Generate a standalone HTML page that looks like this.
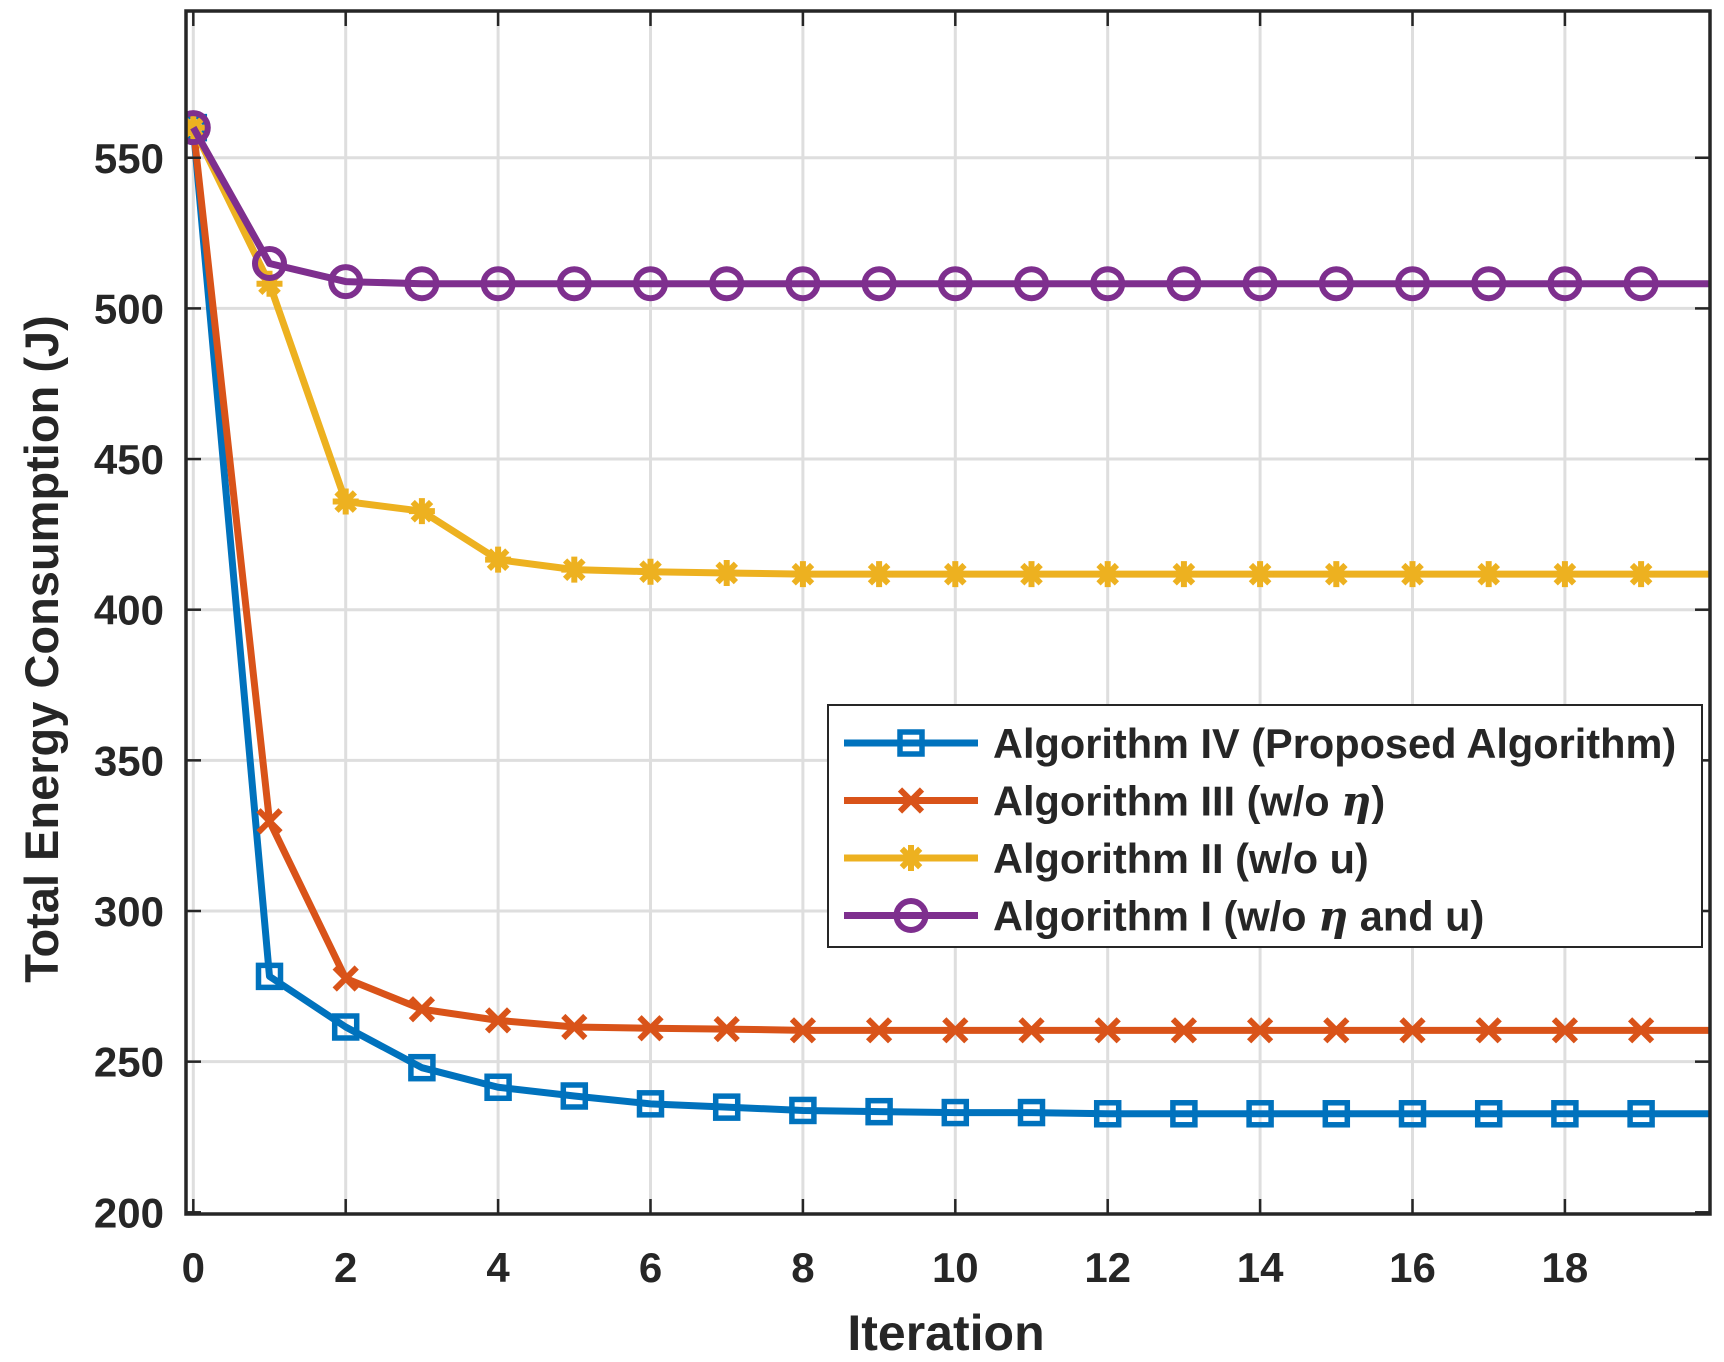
<!DOCTYPE html>
<html><head><meta charset="utf-8"><style>body{margin:0;background:#fff}svg{display:block}text{font-family:"Liberation Sans",sans-serif;font-weight:bold;fill:#262626}</style></head>
<body><svg id="s" width="1724" height="1362" xmlns="http://www.w3.org/2000/svg"></svg>
<script>
const s=document.getElementById('s');const NS='http://www.w3.org/2000/svg';
function el(t,a,p){const e=document.createElementNS(NS,t);for(const k in a)e.setAttribute(k,a[k]);(p||s).appendChild(e);return e;}
const L=186,R=1710,T=11,B=1214;
const X=v=>193.3+v*76.2, Y=v=>1212.3-(v-200)*3.013;
el('rect',{x:0,y:0,width:1724,height:1362,fill:'#fff'});
const defs=el('defs',{});const cp=el('clipPath',{id:'c'},defs);el('rect',{x:L,y:T,width:R-L,height:B-T},cp);
for(let i=0;i<=18;i+=2){el('line',{x1:X(i),x2:X(i),y1:T,y2:B,stroke:'#dedede','stroke-width':3});}
for(let v=250;v<=550;v+=50){el('line',{x1:L,x2:R,y1:Y(v),y2:Y(v),stroke:'#dedede','stroke-width':3});}
const g=el('g',{'clip-path':'url(#c)'});
const data={
blue:[560,278.3,261.5,248,241.5,238.6,236,234.9,233.8,233.4,233.1,233.1,232.7,232.7,232.7,232.7,232.7,232.7,232.7,232.7,232.7],
red:[560,329.8,277.6,267.4,263.7,261.5,261.1,260.8,260.4,260.4,260.4,260.4,260.4,260.4,260.4,260.4,260.4,260.4,260.4,260.4,260.4],
yel:[560,508.2,435.9,432.7,416.6,413.3,412.6,412.2,411.8,411.8,411.8,411.8,411.8,411.8,411.8,411.8,411.8,411.8,411.8,411.8,411.8],
pur:[560,514.9,508.9,508.2,508.2,508.2,508.2,508.2,508.2,508.2,508.2,508.2,508.2,508.2,508.2,508.2,508.2,508.2,508.2,508.2,508.2]};
const col={blue:'#0072BD',red:'#D95319',yel:'#EDB120',pur:'#7E2F8E'};
function marker(k,x,y,p){const c=col[k];
 if(k=='blue')el('rect',{x:x-11,y:y-11,width:22,height:22,fill:'none',stroke:c,'stroke-width':5.5},p);
 if(k=='red'){el('path',{d:`M${x-11} ${y-11}L${x+11} ${y+11}M${x-11} ${y+11}L${x+11} ${y-11}`,stroke:c,'stroke-width':6},p);}
 if(k=='yel'){let d='';for(let a=0;a<4;a++){const an=a*Math.PI/4;const dx=13*Math.cos(an),dy=13*Math.sin(an);d+=`M${x-dx} ${y-dy}L${x+dx} ${y+dy}`;}el('path',{d,stroke:c,'stroke-width':6},p);el('circle',{cx:x,cy:y,r:7,fill:c},p);}
 if(k=='pur')el('circle',{cx:x,cy:y,r:14.5,fill:'none',stroke:c,'stroke-width':6},p);}
for(const k of ['blue','red','yel','pur']){const d=data[k];
 el('polyline',{points:d.map((v,i)=>X(i)+','+Y(v)).join(' '),fill:'none',stroke:col[k],'stroke-width':7,'stroke-linejoin':'round'},g);
 for(let i=0;i<20;i++)marker(k,X(i),Y(d[i]),g);}
el('rect',{x:L,y:T,width:R-L,height:B-T,fill:'none',stroke:'#262626','stroke-width':3.5});
for(let i=0;i<=18;i+=2){el('line',{x1:X(i),x2:X(i),y1:B,y2:B-15,stroke:'#262626','stroke-width':2.5});el('line',{x1:X(i),x2:X(i),y1:T,y2:T+15,stroke:'#262626','stroke-width':2.5});
 const t=el('text',{x:X(i),y:1282,'font-size':42,'text-anchor':'middle'});t.textContent=i;}
for(let v=200;v<=550;v+=50){el('line',{x1:L,x2:L+15,y1:Y(v),y2:Y(v),stroke:'#262626','stroke-width':2.5});el('line',{x1:R,x2:R-15,y1:Y(v),y2:Y(v),stroke:'#262626','stroke-width':2.5});
 const t=el('text',{x:164,y:Y(v)+15,'font-size':42,'text-anchor':'end'});t.textContent=v;}
let t=el('text',{x:946,y:1350,'font-size':50,'text-anchor':'middle'});t.textContent='Iteration';
t=el('text',{x:0,y:0,'font-size':47,'text-anchor':'middle',transform:'translate(58,649) rotate(-90)'});t.textContent='Total Energy Consumption (J)';
el('rect',{x:828,y:705,width:874,height:242,fill:'#fff',stroke:'#262626','stroke-width':2});
const labs=[['blue','Algorithm IV (Proposed Algorithm)'],['red','Algorithm III (w/o <tspan font-style="italic" font-family="DejaVu Serif">η</tspan>)'],['yel','Algorithm II (w/o u)'],['pur','Algorithm I (w/o <tspan font-style="italic" font-family="DejaVu Serif">η</tspan> and u)']];
labs.forEach(([k,l],i)=>{const y=743+i*57.5;el('line',{x1:844,x2:978,y1:y,y2:y,stroke:col[k],'stroke-width':7});marker(k,911,y);
 const tt=el('text',{x:993,y:y+15,'font-size':41.5});tt.innerHTML=l;});
</script></body></html>
